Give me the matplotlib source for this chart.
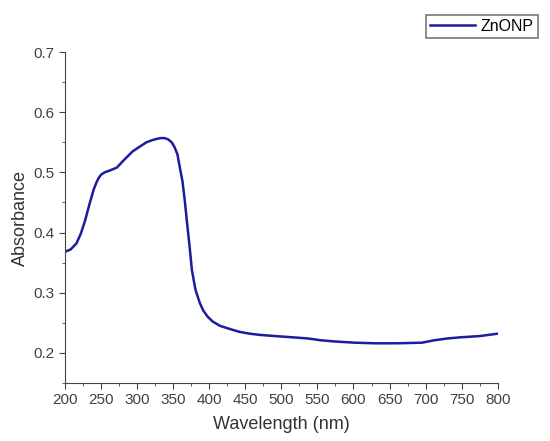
import numpy as np
import matplotlib.pyplot as plt
from matplotlib.ticker import MultipleLocator

plt.rcParams['font.family'] = ['Liberation Sans', 'DejaVu Sans']

# UV-Vis spectrum
wavelength = [200, 208, 216, 222, 228, 234, 240, 244, 247, 250, 255, 262, 272, 283, 294,
              304, 313, 322, 332, 338, 343, 348, 352, 356, 359, 363, 366, 369,
              373, 376, 381, 387, 392, 398, 405, 415, 428, 442, 456, 470, 491,
              515, 537, 555, 574, 602, 630, 660, 695, 712, 730, 749, 775, 800]
absorbance = [0.368, 0.372, 0.382, 0.398, 0.420, 0.447, 0.472, 0.484, 0.491, 0.496,
              0.500, 0.503, 0.508, 0.522, 0.535, 0.543, 0.550, 0.554, 0.557, 0.557,
              0.555, 0.550, 0.542, 0.530, 0.510, 0.485, 0.455, 0.420, 0.375, 0.338,
              0.305, 0.283, 0.270, 0.260, 0.252, 0.245, 0.240, 0.235, 0.232, 0.230,
              0.228, 0.226, 0.224, 0.221, 0.219, 0.217, 0.216, 0.216, 0.217, 0.221,
              0.224, 0.226, 0.228, 0.232]

fig = plt.figure(figsize=(5.5, 4.41), dpi=100)
ax = fig.add_axes([0.118, 0.1315, 0.787, 0.7505])
ax.plot(wavelength, absorbance, color='#1c1c9c', lw=1.8, label='ZnONP')

ax.set_xlim(200, 800)
ax.set_ylim(0.15, 0.7)
ax.xaxis.set_major_locator(MultipleLocator(50))
ax.xaxis.set_minor_locator(MultipleLocator(25))
ax.yaxis.set_minor_locator(MultipleLocator(0.05))
ax.set_yticks([0.2, 0.3, 0.4, 0.5, 0.6, 0.7])
ax.spines['top'].set_visible(False)
ax.spines['right'].set_visible(False)
for s in ['left', 'bottom']:
    ax.spines[s].set_color('#444444')
ax.tick_params(which='major', length=4, color='#444444', labelsize=11, labelcolor='#404040')
ax.tick_params(which='minor', length=2, color='#444444')

ax.set_xlabel('Wavelength (nm)', fontsize=13, color='#333333', labelpad=6)
ax.set_ylabel('Absorbance', fontsize=13, color='#333333', labelpad=3)

leg = fig.legend(loc='upper right', bbox_to_anchor=(0.978, 0.966), frameon=True,
                 fancybox=False, fontsize=11.5, handlelength=2.8, borderpad=0.25,
                 handletextpad=0.4, borderaxespad=0)
leg.get_frame().set_edgecolor('#555555')
leg.get_frame().set_linewidth(1.2)

plt.savefig('out.png', dpi=100)
